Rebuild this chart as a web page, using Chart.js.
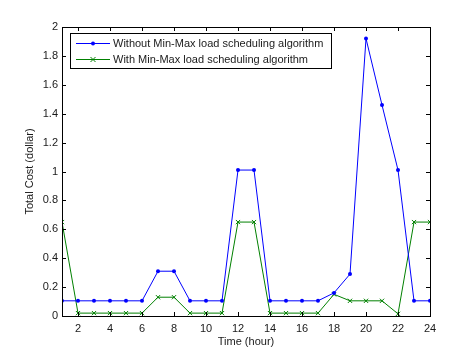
<!DOCTYPE html>
<html>
<head>
<meta charset="utf-8">
<script src="https://cdn.jsdelivr.net/npm/chart.js@4"></script>
<style>
html,body{margin:0;padding:0;background:#fff;}
#wrap{width:474px;height:355px;position:relative;}
</style>
</head>
<body>
<div id="wrap"><canvas id="c" width="474" height="355"></canvas></div>
<script>
const hours = [1,2,3,4,5,6,7,8,9,10,11,12,13,14,15,16,17,18,19,20,21,22,23,24];
const withoutMinMax = [0.105,0.105,0.105,0.105,0.105,0.105,0.31,0.31,0.105,0.105,0.105,1.01,1.01,0.105,0.105,0.105,0.105,0.16,0.29,1.92,1.46,1.01,0.105,0.105];
const withMinMax = [0.65,0.02,0.02,0.02,0.02,0.02,0.13,0.13,0.02,0.02,0.02,0.65,0.65,0.02,0.02,0.02,0.02,0.15,0.105,0.105,0.105,0.015,0.65,0.65];
const xTicks = [2,4,6,8,10,12,14,16,18,20,22,24];
const yTicks = [0,0.2,0.4,0.6,0.8,1,1.2,1.4,1.6,1.8,2];
const seriesLabels = ['Without Min-Max load scheduling algorithm','With Min-Max load scheduling algorithm'];
const xTitle = 'Time (hour)';
const yTitle = 'Total Cost (dollar)';

const FONT = 'Liberation Sans, Arial, sans-serif';
const TXT = '#1a1a1a';

const boxPlugin = {
  id: 'matlabBox',
  afterDatasetsDraw(chart) {
    const ctx = chart.ctx, a = chart.chartArea;
    const xs = chart.scales.x, ys = chart.scales.y;
    const L = 4;
    ctx.save();
    ctx.strokeStyle = '#000';
    ctx.lineWidth = 1;
    ctx.beginPath();
    xs.ticks.forEach(t => {
      const px = Math.round(xs.getPixelForValue(t.value)) + 0.5;
      ctx.moveTo(px, a.bottom); ctx.lineTo(px, a.bottom - L);
      ctx.moveTo(px, a.top); ctx.lineTo(px, a.top + L);
    });
    ys.ticks.forEach(t => {
      const py = Math.round(ys.getPixelForValue(t.value)) + 0.5;
      ctx.moveTo(a.left, py); ctx.lineTo(a.left + L, py);
      ctx.moveTo(a.right, py); ctx.lineTo(a.right - L, py);
    });
    ctx.stroke();
    ctx.strokeRect(Math.round(a.left) + 0.5, Math.round(a.top) + 0.5, Math.round(a.right - a.left), Math.round(a.bottom - a.top));

    // legend
    const lx = 70, ly = 33, lw = 261, lh = 35;
    ctx.fillStyle = '#fff';
    ctx.fillRect(lx, ly, lw, lh);
    ctx.strokeStyle = '#000';
    ctx.strokeRect(lx + 0.5, ly + 0.5, lw, lh);
    chart.data.datasets.forEach((ds, i) => {
      const yy = ly + 10.5 + i * 16;
      ctx.strokeStyle = ds.borderColor;
      ctx.lineWidth = 1;
      ctx.beginPath(); ctx.moveTo(76, yy); ctx.lineTo(110, yy); ctx.stroke();
      if (i === 0) {
        ctx.fillStyle = ds.borderColor;
        ctx.beginPath(); ctx.arc(93, yy, 2, 0, Math.PI * 2); ctx.fill();
      } else {
        ctx.beginPath();
        ctx.moveTo(90.5, yy - 2.5); ctx.lineTo(95.5, yy + 2.5);
        ctx.moveTo(95.5, yy - 2.5); ctx.lineTo(90.5, yy + 2.5);
        ctx.stroke();
      }
      ctx.fillStyle = TXT;
      ctx.font = '11px ' + FONT;
      ctx.textBaseline = 'middle';
      ctx.textAlign = 'left';
      ctx.fillText(ds.label, 113, yy);
    });
    ctx.restore();
  }
};

new Chart(document.getElementById('c'), {
  type: 'line',
  data: {
    labels: hours,
    datasets: [
      {
        label: seriesLabels[0],
        data: hours.map((h, i) => ({x: h, y: withoutMinMax[i]})),
        borderColor: 'rgb(0,0,255)',
        backgroundColor: 'rgb(0,0,255)',
        borderWidth: 1,
        pointStyle: 'circle',
        pointRadius: 2,
        pointBorderWidth: 0,
        tension: 0
      },
      {
        label: seriesLabels[1],
        data: hours.map((h, i) => ({x: h, y: withMinMax[i]})),
        borderColor: 'rgb(0,128,0)',
        backgroundColor: 'rgb(0,128,0)',
        borderWidth: 1,
        pointStyle: 'crossRot',
        pointRadius: 3,
        pointBorderWidth: 1,
        tension: 0
      }
    ]
  },
  options: {
    responsive: false,
    animation: false,
    events: [],
    layout: {padding: {left: 0, top: 27, right: 44, bottom: 0}},
    plugins: {legend: {display: false}, tooltip: {enabled: false}},
    scales: {
      x: {
        type: 'linear', min: 1, max: 24,
        afterBuildTicks: s => { s.ticks = xTicks.map(v => ({value: v})); },
        afterFit: s => { s.height = 39; },
        grid: {drawOnChartArea: false, drawTicks: false},
        border: {display: false},
        ticks: {color: TXT, font: {family: FONT, size: 11}, padding: 6, maxRotation: 0, autoSkip: false},
        title: {display: true, text: xTitle, color: TXT, font: {family: FONT, size: 11}, padding: {top: 0, bottom: 6}}
      },
      y: {
        type: 'linear', min: 0, max: 2,
        afterBuildTicks: s => { s.ticks = yTicks.map(v => ({value: v})); },
        afterFit: s => { s.width = 62; },
        grid: {drawOnChartArea: false, drawTicks: false},
        border: {display: false},
        ticks: {color: TXT, font: {family: FONT, size: 11}, padding: 4, autoSkip: false, callback: v => String(Math.round(v * 10) / 10)},
        title: {display: true, text: yTitle, color: TXT, font: {family: FONT, size: 11}, padding: {top: 23, bottom: 0}}
      }
    }
  },
  plugins: [boxPlugin]
});
</script>
</body>
</html>
